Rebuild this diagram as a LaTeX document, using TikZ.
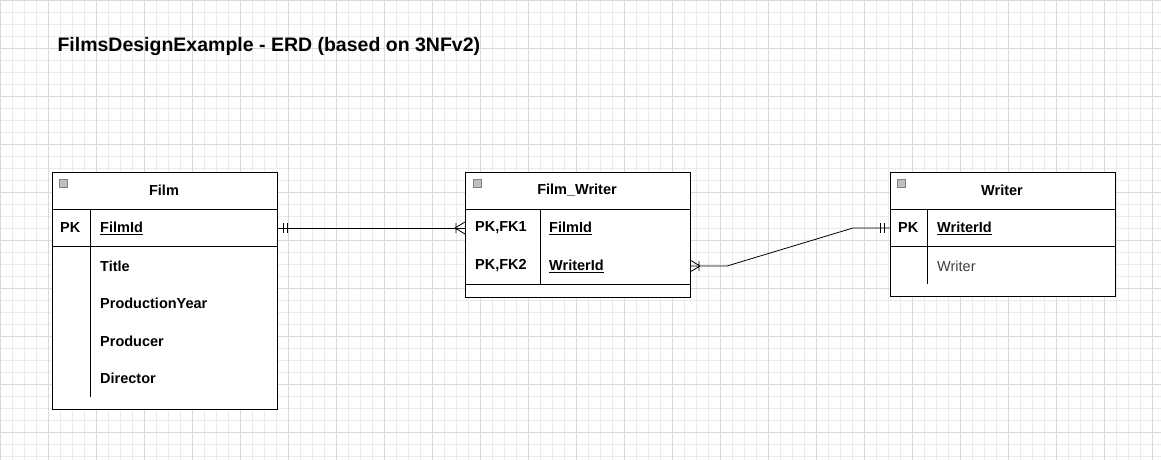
\documentclass[tikz,border=0pt]{standalone}
\usepackage{fontspec}
\setmainfont{Liberation Sans}
\begin{document}
\begin{tikzpicture}[x=1pt,y=-1pt,
  tbl/.style={draw,line width=0.8pt,fill=white,minimum width=225pt,anchor=north west,inner sep=0},
  hdr/.style={font=\bfseries\fontsize{14.5}{16}\selectfont},
  fld/.style={font=\bfseries\fontsize{14.5}{16}\selectfont,anchor=west,inner sep=0},
  ico/.style={draw=gray,fill=gray!50,minimum size=8pt,inner sep=0},
  ln/.style={line width=0.8pt}]
\useasboundingbox (0,0) rectangle (1161,460);
\fill[white] (0,0) rectangle (1161,460);
\foreach \x in {0,12,...,1161} \draw[black!8,line width=0.4pt] (\x,0) -- (\x,460);
\foreach \y in {0,12,...,460} \draw[black!8,line width=0.4pt] (0,\y) -- (1161,\y);
\foreach \x in {0,48,...,1161} \draw[black!15,line width=0.4pt] (\x,0) -- (\x,460);
\foreach \y in {0,48,...,460} \draw[black!15,line width=0.4pt] (0,\y) -- (1161,\y);
\node[anchor=west,font=\bfseries\fontsize{19.5}{22}\selectfont] (title) at (54,47) {FilmsDesignExample - ERD (based on 3NFv2)};
% Film
\node[tbl,minimum height=237pt] (film) at (52,172) {};
\draw[ln] (52,209) -- (277,209) (52,246) -- (277,246);
\draw[ln] (90,209) -- (90,397);
\node[ico] (fi) at (63,183) {};
\node[hdr] (fh) at (164,190) {Film};
\node[fld] (fpk) at (60,228) {PK};
\node[fld] (f1) at (100,228) {\underline{FilmId}};
\node[fld] (f2) at (100,266) {Title};
\node[fld] (f3) at (100,303) {ProductionYear};
\node[fld] (f4) at (100,341) {Producer};
\node[fld] (f5) at (100,378) {Director};
% Film_Writer
\node[tbl,minimum height=125pt] (fw) at (465,172) {};
\draw[ln] (465,209) -- (690,209) (465,284) -- (690,284);
\draw[ln] (540,209) -- (540,284);
\node[ico] (wi) at (477,183) {};
\node[hdr] (wh) at (577,190) {Film\_Writer};
\node[fld] (w1) at (475,228) {PK,FK1};
\node[fld] (w2) at (475,266) {PK,FK2};
\node[fld] (w3) at (549,228) {\underline{FilmId}};
\node[fld] (w4) at (549,266) {\underline{WriterId}};
% Writer
\node[tbl,minimum height=124pt] (wr) at (890,172) {};
\draw[ln] (890,209) -- (1115,209) (890,246) -- (1115,246);
\draw[ln] (927,209) -- (927,284);
\node[ico] (ri) at (901,183) {};
\node[hdr] (rh) at (1002,190) {Writer};
\node[fld] (rpk) at (898,228) {PK};
\node[fld] (r1) at (937,228) {\underline{WriterId}};
\node[fld,font=\fontsize{14.5}{16}\selectfont,text=black!75] (r2) at (937,266) {Writer};
% connectors
\coordinate (a1) at (277,228);
\coordinate (a2) at (465,228);
\draw[ln] (a1) -- (a2);
\draw[ln] (283,223) -- (283,233) (287,223) -- (287,233);
\draw[ln] (455,228) -- (465,222) (455,228) -- (465,234) (456,223) -- (456,233);
\coordinate (b1) at (690,266);
\coordinate (b2) at (890,228);
\draw[ln] (b1) -- (727,266) -- (853,228) -- (b2);
\draw[ln] (700,266) -- (690,260) (700,266) -- (690,272) (699,261) -- (699,271);
\draw[ln] (880,223) -- (880,233) (884,223) -- (884,233);
\end{tikzpicture}
\end{document}
